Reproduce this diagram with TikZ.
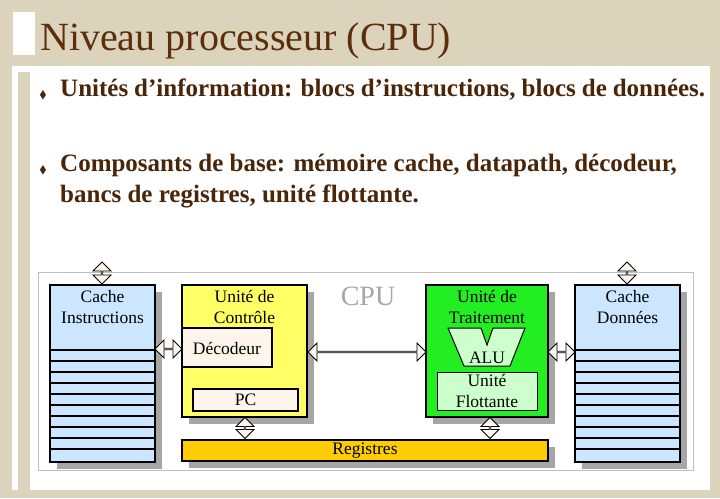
\documentclass[tikz,border=0pt]{standalone}
\usepackage{amssymb}
\usepackage{fontspec}
\setmainfont{Liberation Serif}
\usetikzlibrary{shapes.arrows}
\definecolor{beige}{HTML}{DCD3BC}
\definecolor{titre}{HTML}{5C2E0A}
\definecolor{texte}{HTML}{4A2508}
\definecolor{bleu}{HTML}{CCE6FF}
\definecolor{jaune}{HTML}{FFFF66}
\definecolor{vert}{HTML}{22EE22}
\definecolor{vertclair}{HTML}{CCFFCC}
\definecolor{creme}{HTML}{FDF5EC}
\definecolor{orange}{HTML}{FFCC00}
\begin{document}
\begin{tikzpicture}[x=1pt,y=-1pt,
	bloc/.style={draw=black,line width=1.2pt},
	ombre/.style={fill=gray!70,draw=none},
	fleche/.style={double arrow,draw=black,fill=creme,line width=0.8pt,
		double arrow head extend=4pt,minimum width=18pt,inner sep=0pt},
	etiq/.style={font=\fontsize{17.5}{21}\selectfont,align=center,inner sep=0pt},
	puce/.style={font=\fontsize{25}{31}\selectfont\bfseries,color=texte,text width=645pt,align=flush left,anchor=north west,inner sep=0pt}]
	\useasboundingbox (0,0) rectangle (720,498);
	\fill[beige] (0,0) rectangle (720,498);
	\fill[white] (12,66) rectangle (710,490);
	\fill[beige] (18,72) rectangle (30,490);
	\fill[white] (13,12) rectangle (35,55);
	\node[anchor=base west,font=\fontsize{40}{40}\selectfont,color=titre,inner sep=0pt] (titre) at (40,50) {Niveau processeur (CPU)};

	% puces
	\node[color=texte,font=\fontsize{11}{11}\selectfont] (p1) at (43,95) {$\blacklozenge$};
	\node[puce] (t1) at (60,79) {Unités d’information: blocs d’instructions, blocs de données.};
	\node[color=texte,font=\fontsize{11}{11}\selectfont] (p2) at (43,170) {$\blacklozenge$};
	\node[puce] (t2) at (60,154) {Composants de base: mémoire cache, datapath, décodeur, bancs de registres, unité flottante.};

	% cadre CPU
	\draw[gray!50,fill=white,line width=1pt] (38,272) rectangle (693,470);
	\node[color=gray!70,font=\fontsize{28}{28}\selectfont] (cpu) at (368,296) {CPU};

	% ombres
	\foreach \xa/\ya/\xb/\yb in {50/285/155/462, 575/285/680/462, 182/285/307/417, 426/285/548/417, 182/440/548/461}
		\fill[ombre] (\xa+7,\ya+7) rectangle (\xb+7,\yb+7);

	% caches
	\draw[bloc,fill=bleu] (50,285) rectangle (155,462);
	\draw[bloc,fill=bleu] (575,285) rectangle (680,462);
	\foreach \y in {350,361,372,383,394,405,416,427,438,449} {
		\draw[bloc] (50,\y) -- (155,\y);
		\draw[bloc] (575,\y) -- (680,\y);
	}
	\node[etiq] (ci) at (102.5,307) {Cache\\Instructions};
	\node[etiq] (cd) at (627.5,307) {Cache\\Données};

	% unite de controle
	\draw[bloc,fill=jaune] (182,285) rectangle (307,417);
	\node[etiq] (uc) at (244.5,307) {Unité de\\Contrôle};
	\draw[bloc,fill=creme] (182,328) rectangle (272,367);
	\node[etiq] (dec) at (227,348) {Décodeur};
	\draw[bloc,fill=creme] (193,389) rectangle (298,411);
	\node[etiq] (pc) at (245.5,400) {PC};

	% unite de traitement
	\draw[bloc,fill=vert] (426,285) rectangle (548,417);
	\node[etiq] (ut) at (487,307) {Unité de\\Traitement};
	\draw[line width=1pt,fill=vertclair] (448,328) -- (481,328) -- (487,345) -- (493,328) -- (525,328) -- (510,366) -- (464,366) -- cycle;
	\node[etiq] (alu) at (487,358) {ALU};
	\draw[line width=1pt,fill=vertclair] (437,372) rectangle (537,410);
	\node[etiq] (uf) at (487,391) {Unité\\Flottante};

	% registres
	\draw[bloc,fill=orange] (182,440) rectangle (548,461);
	\node[etiq] (reg) at (365,451) {Registres};

	% fleches
	\node[fleche,rotate=90,minimum height=22pt] (f1) at (102,273) {};
	\node[fleche,rotate=90,minimum height=22pt] (f2) at (627,273) {};
	\node[fleche,rotate=90,minimum height=21pt] (f3) at (245,428) {};
	\node[fleche,rotate=90,minimum height=21pt] (f4) at (490,428) {};
	\node[fleche,minimum height=27pt] (f5) at (168.5,349) {};
	\node[fleche,minimum height=118pt] (f6) at (367,352) {};
	\node[fleche,minimum height=27pt] (f7) at (561.5,352) {};
\end{tikzpicture}
\end{document}
